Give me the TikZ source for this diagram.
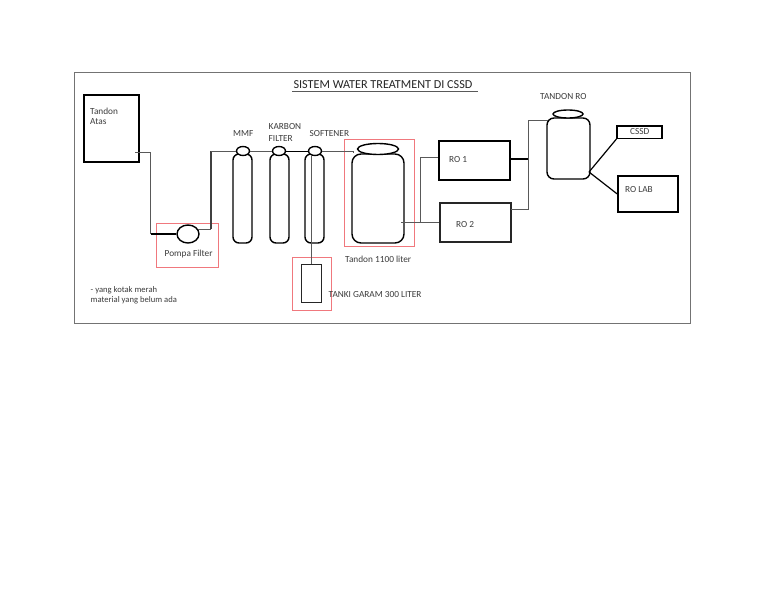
\documentclass[tikz,border=0pt]{standalone}
\usepackage{fontspec}
\setmainfont{Carlito}
\usetikzlibrary{calc,shapes.geometric}
\definecolor{txt}{RGB}{60,60,60}
\definecolor{redbox}{RGB}{240,120,125}
\tikzset{
  boxthick/.style={draw=black,line width=1.5pt,inner sep=0pt},
  boxthin/.style={draw=black!85,line width=1pt,inner sep=0pt},
  tank/.style={draw=black,line width=1.4pt,rounded corners=6pt,inner sep=0pt},
  capell/.style={draw=black,line width=1.4pt,ellipse,inner sep=0pt},
  redmark/.style={draw=redbox,line width=0.9pt,inner sep=0pt},
  pipe/.style={draw=black!65,line width=0.8pt},
  pipedark/.style={draw=black,line width=1.2pt},
  lbl/.style={text=txt,font=\fontsize{9.3}{11}\selectfont,inner sep=0pt,align=left},
  frame/.style={draw=black!55,line width=0.8pt,inner sep=0pt}
}
\begin{document}
\begin{tikzpicture}[x=1pt,y=-1pt]
\useasboundingbox (0,0) rectangle (768,594);
\fill[white] (0,0) rectangle (768,594);
\node[frame,minimum width=616pt,minimum height=250.5pt] (outer) at (382,197.7) {};
% red marks
\node[redmark,minimum width=62pt,minimum height=44pt] (rpump) at (187,245) {};
\node[redmark,minimum width=70pt,minimum height=107.5pt] (rtandon) at (379.5,192.7) {};
\node[redmark,minimum width=39.5pt,minimum height=53pt] (rtanki) at (311.7,283.5) {};
% title
\node[text=black!85,font=\fontsize{12.2}{14}\selectfont,inner sep=0pt] (title) at (383,85) {SISTEM WATER TREATMENT DI CSSD};
\coordinate (ulL) at (292,91.5);
\coordinate (ulR) at (478,91.5);
\draw[pipe] (ulL) -- (ulR);
% equipment
\node[boxthick,minimum width=55pt,minimum height=67pt] (atas) at (111.5,128.5) {};
\node[capell,minimum width=22pt,minimum height=18pt] (pump) at (188,234) {};
\node[tank,minimum width=19pt,minimum height=89pt] (mmf) at (242.5,198.5) {};
\node[capell,minimum width=13pt,minimum height=9pt,fill=white] (mmfcap) at (243,151) {};
\node[tank,minimum width=19pt,minimum height=89pt] (karbon) at (279.5,198.5) {};
\node[capell,minimum width=13pt,minimum height=9pt,fill=white] (karboncap) at (279,151) {};
\node[tank,minimum width=19pt,minimum height=89pt] (soft) at (314.5,198.5) {};
\node[capell,minimum width=13pt,minimum height=9pt,fill=white] (softcap) at (315,151) {};
\node[boxthin,minimum width=19.5pt,minimum height=38pt] (tanki) at (311.7,283) {};
\node[tank,rounded corners=9pt,minimum width=52pt,minimum height=89pt] (t1100) at (378,198.5) {};
\node[capell,minimum width=41pt,minimum height=11pt,fill=white] (t1100cap) at (378,149) {};
\node[boxthick,minimum width=71pt,minimum height=39pt] (ro1) at (474.5,160.5) {};
\node[boxthin,line width=1.2pt,minimum width=71pt,minimum height=39pt] (ro2) at (475.5,222.5) {};
\node[tank,rounded corners=7pt,minimum width=43pt,minimum height=61pt] (troo) at (568.5,148.5) {};
\node[capell,minimum width=30pt,minimum height=8pt,fill=white] (trocap) at (568,114) {};
\node[boxthick,line width=1.2pt,minimum width=45pt,minimum height=12.5pt] (cssd) at (639.5,132.2) {};
\node[boxthick,minimum width=60pt,minimum height=36pt] (rolab) at (648,194) {};
% connector points
\coordinate (atasout) at (135,152);
\coordinate (bendA) at (150.5,152);
\coordinate (bendB) at (150.5,234);
\coordinate (pumpout) at (198,229);
\coordinate (bendC) at (211,229);
\coordinate (bendD) at (211,151);
\coordinate (bendE) at (353.5,151);
\coordinate (softdown) at (311,155);
\coordinate (softmid) at (311,264);
\coordinate (t1100out) at (401,222.5);
\coordinate (jRO) at (420,222.5);
\coordinate (bendF) at (420,157);
\coordinate (ro1R) at (510,159);
\coordinate (jOut) at (528,159);
\coordinate (ro2R) at (511,209);
\coordinate (bendG) at (528,209);
\coordinate (bendH) at (528,120);
\coordinate (troin) at (548,120);
\coordinate (trout) at (589,172);
% connectors
\draw[pipe] (atasout) -- (bendA) -- (bendB);
\draw[pipedark] (bendB) -- (pump.west);
\draw[pipe] (pumpout) -- (bendC);
\draw[pipedark,draw=black!75] (bendC) -- (bendD);
\draw[pipe] (bendD) -- (mmfcap.west);
\draw[pipe] (mmfcap.east) -- (karboncap.west);
\draw[pipedark,line width=1pt] (karboncap.east) -- (softcap.west);
\draw[pipe] (softcap.east) -- (bendE) -- (bendE |- t1100.north);
\draw[pipe] (softdown) -- (softmid);
\draw[pipe] (t1100out) -- (jRO) -- (ro2.west);
\draw[pipe] (jRO) -- (bendF) -- (bendF -| ro1.west);
\draw[pipedark] (ro1R) -- (jOut);
\draw[pipe] (ro2R) -- (bendG) -- (bendH) -- (troin);
\draw[pipedark] (trout) -- (cssd.south west);
\draw[pipedark] (trout) -- (rolab.west);
% labels
\node[lbl,anchor=west] (l1) at (90,111) {Tandon};
\node[lbl,anchor=west] (l1b) at (90,122) {Atas};
\node[lbl,anchor=west] (l2) at (233,134) {MMF};
\node[lbl,anchor=west] (l3) at (268.5,127) {KARBON};
\node[lbl,anchor=west] (l3b) at (268.5,138.5) {FILTER};
\node[lbl,anchor=west] (l4) at (309.5,134) {SOFTENER};
\node[lbl,anchor=west] (l5) at (164.5,254) {Pompa Filter};
\node[lbl,anchor=west] (l6) at (345,259) {Tandon 1100 liter};
\node[lbl,anchor=west] (l7) at (328.5,294.5) {TANKI GARAM 300 LITER};
\node[lbl,anchor=west] (l8) at (449,160) {RO 1};
\node[lbl,anchor=west] (l9) at (456,225) {RO 2};
\node[lbl,anchor=west] (l10) at (540,97) {TANDON RO};
\node[lbl,anchor=west] (l11) at (630,132) {CSSD};
\node[lbl,anchor=west] (l12) at (625,190) {RO LAB};
\node[lbl,anchor=west,font=\fontsize{8.6}{10}\selectfont] (l13) at (90.5,290) {- yang kotak merah};
\node[lbl,anchor=west,font=\fontsize{8.6}{10}\selectfont] (l13b) at (90.5,300) {material yang belum ada};
\end{tikzpicture}
\end{document}
